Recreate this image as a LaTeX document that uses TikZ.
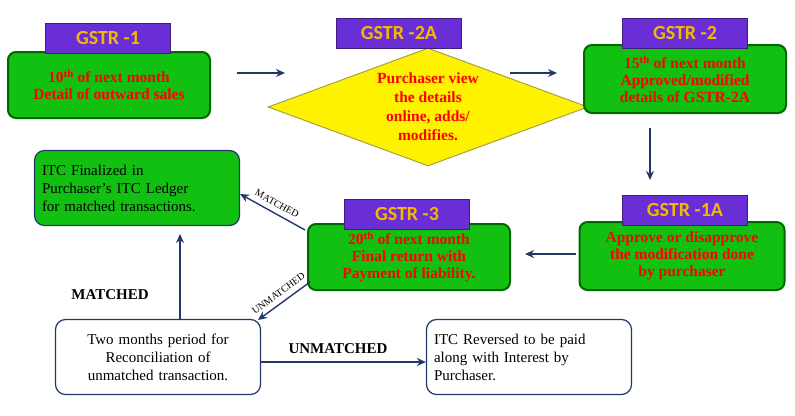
\documentclass[tikz,border=0pt]{standalone}
\usepackage{fontspec}
\setmainfont{Liberation Serif}
\newfontfamily\lblfont{Carlito}
\usetikzlibrary{shapes.geometric,arrows.meta}
\definecolor{gstrpurple}{HTML}{6A2ED6}
\definecolor{gstrgreen}{HTML}{12C012}
\definecolor{gstrorange}{HTML}{F5B800}
\definecolor{gstrnavy}{HTML}{1F3A68}
\tikzset{
  tag/.style={draw=gstrpurple!60!black,fill=gstrpurple,text=gstrorange,
    font=\lblfont\bfseries\fontsize{20}{20}\selectfont,
    minimum width=125pt,minimum height=30pt,inner sep=0pt},
  stepbox/.style={draw=green!40!black,line width=2pt,fill=gstrgreen,rounded corners=8pt,
    text=red,font=\bfseries\fontsize{15.5}{17}\selectfont,align=center,
    minimum width=202pt,minimum height=66pt,inner sep=1pt},
  infobox/.style={draw=gstrnavy,line width=1.2pt,rounded corners=10pt,
    font=\fontsize{15}{18}\selectfont,align=left,
    minimum width=205pt,minimum height=75pt,text width=190pt},
  flow/.style={-{Stealth[length=9pt,width=8pt]},draw=gstrnavy,line width=1.4pt},
  side/.style={font=\bfseries\fontsize{15}{17}\selectfont}
}
\begin{document}
\begin{tikzpicture}[x=1pt,y=-1pt]
  \useasboundingbox (0,0) rectangle (795,415);
  % top row
  \node[stepbox] (g1box) at (109,85) {10\textsuperscript{th} of next month\\Detail of outward sales};
  \node[tag] (g1) at (108,38) {GSTR -1};
  \node[diamond,draw=yellow!60!black,fill=yellow,line width=1pt,aspect=2.7,
    minimum width=320pt,minimum height=118pt,inner sep=0pt,
    text=red,font=\bfseries\fontsize{15.5}{19}\selectfont,align=center] (g2a) at (428,107)
    {Purchaser view\\the details\\online,\ adds/\\modifies.};
  \node[tag] (g2atag) at (399,33) {GSTR -2A};
  \node[stepbox,minimum height=68pt] (g2box) at (685,79) {15\textsuperscript{th} of next month\\Approved/modified\\details of GSTR-2A};
  \node[tag] (g2) at (685,33) {GSTR -2};
  % middle row
  \node[stepbox,minimum width=205pt,minimum height=68pt] (g1abox) at (682,256) {Approve or disapprove\\the modification done\\by purchaser};
  \node[tag] (g1a) at (685,210) {GSTR -1A};
  \node[stepbox] (g3box) at (409,257) {20\textsuperscript{th} of next month\\Final return with\\Payment of liability.};
  \node[tag] (g3) at (407,214) {GSTR -3};
  \node[infobox,fill=gstrgreen] (itcfin) at (137,188) {ITC Finalized in\\Purchaser's ITC Ledger\\for matched transactions.};
  % bottom row
  \node[infobox,fill=white,align=center] (recon) at (158,357) {Two months period for\\Reconciliation of\\unmatched transaction.};
  \node[infobox,fill=white] (itcrev) at (529,357) {ITC Reversed to be paid\\along with Interest by\\Purchaser.};
  % connectors
  \coordinate (a1) at (237,73); \coordinate (a2) at (285,73);
  \draw[flow] (a1) -- (a2);
  \coordinate (b1) at (510,73); \coordinate (b2) at (557,73);
  \draw[flow] (b1) -- (b2);
  \coordinate (c1) at (650,128);
  \draw[flow] (c1) -- (650,180);
  \coordinate (d1) at (576,254);
  \draw[flow] (d1) -- (525,254);
  \coordinate (e1) at (305,230);
  \draw[flow] (e1) -- (itcfin.east |- 0,194)
    node[midway,above=2pt,sloped,font=\fontsize{10}{10}\selectfont] {MATCHED};
  \coordinate (f1) at (310,282);
  \draw[flow] (f1) -- (258,320)
    node[midway,above=2pt,sloped,font=\fontsize{10}{10}\selectfont] {UNMATCHED};
  \draw[flow] (recon.north -| 180,0) -- (180,234);
  \node[side] (lm) at (110,295) {MATCHED};
  \draw[flow] (recon.east |- 0,362) -- (itcrev.west |- 0,362);
  \node[side] (lu) at (338,349) {UNMATCHED};
\end{tikzpicture}
\end{document}
